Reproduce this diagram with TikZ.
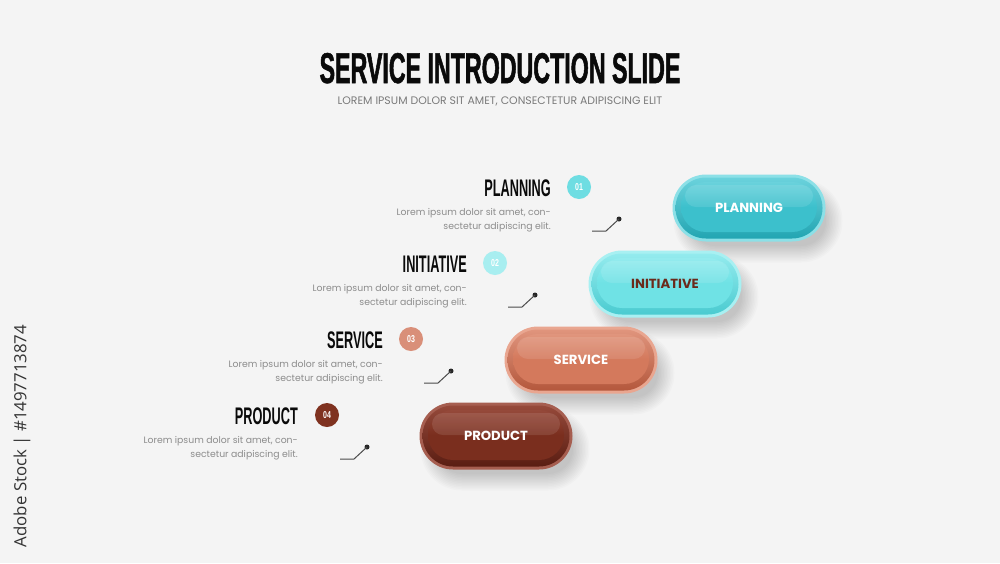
\documentclass[tikz,border=0pt]{standalone}
\usepackage{fontspec}
\setmainfont{Poppins}
\newfontfamily\condfont[FakeStretch=0.53]{Liberation Sans}
\newfontfamily\titlefont[FakeStretch=0.54,FakeBold=1.2]{Liberation Sans}
\newfontfamily\numfont[FakeStretch=0.7]{Liberation Sans}
\newfontfamily\sidefont{Open Sans}
\usetikzlibrary{shapes.misc}
\definecolor{bg}{HTML}{F4F4F4}
\definecolor{titlec}{HTML}{0A0A0A}
\definecolor{subc}{HTML}{7A7A7A}
\definecolor{descc}{HTML}{8C8C8C}
\definecolor{connc}{HTML}{4A4A4A}
% pill colours: body, rim, dark, light
\definecolor{pAbody}{HTML}{3CC0CC}\definecolor{pArim}{HTML}{8CE0E7}\definecolor{pAdark}{HTML}{22A5B2}\definecolor{pAlight}{HTML}{6AD2DC}
\definecolor{pBbody}{HTML}{6FE2E5}\definecolor{pBrim}{HTML}{A8F0F2}\definecolor{pBdark}{HTML}{4ACBD0}\definecolor{pBlight}{HTML}{94EBEE}
\definecolor{pCbody}{HTML}{D4795C}\definecolor{pCrim}{HTML}{E9A690}\definecolor{pCdark}{HTML}{B4573C}\definecolor{pClight}{HTML}{E0957D}
\definecolor{pDbody}{HTML}{7A2E1E}\definecolor{pDrim}{HTML}{A65E50}\definecolor{pDdark}{HTML}{5A1D12}\definecolor{pDlight}{HTML}{95493A}
\definecolor{cA}{HTML}{6EDDE2}\definecolor{cB}{HTML}{A8EEF0}\definecolor{cC}{HTML}{D98F79}\definecolor{cD}{HTML}{7F3220}
\definecolor{darklabel}{HTML}{6B2A1B}
\tikzset{
  pillshape/.style={rounded rectangle, inner sep=0pt, draw=none},
  head/.style={font=\condfont\bfseries\fontsize{24}{24}\selectfont, text=titlec, inner sep=0pt, anchor=base east},
  numcirc/.style={circle, minimum size=24pt, inner sep=0pt, text=white, font=\numfont\bfseries\fontsize{10}{10}\selectfont},
  desc/.style={font=\fontsize{9.3}{14}\selectfont, text=descc, align=right, anchor=east, inner sep=0pt},
  dotnode/.style={circle, fill=black!85, minimum size=5pt, inner sep=0pt},
  conn/.style={draw=connc, line width=1pt},
  pilllabel/.style={font=\bfseries\fontsize{13.2}{13.2}\selectfont, inner sep=0pt}
}
% name, x, y, body, rim, dark, light, label, labelcolor
\newcommand{\glosspill}[9]{%
  \foreach \s in {0,3,...,33} {\node[pillshape, minimum width=136pt+\s pt, minimum height=50pt+\s pt, fill=black, fill opacity=0.017] at (#2+9,#3+13) {};}
  \node[pillshape, minimum width=153pt, minimum height=67pt, fill=#5] (#1) at (#2,#3) {};
  \node[pillshape, minimum width=147pt, minimum height=61pt, top color=#7, bottom color=#6] (#1-body) at (#2,#3) {};
  \node[pillshape, minimum width=136pt, minimum height=50pt, top color=#7, bottom color=#4, middle color=#4] (#1-face) at (#2,#3-1) {};
  \node[pillshape, minimum width=128pt, minimum height=22pt, fill=white, fill opacity=0.10] (#1-gloss) at (#2,#3-12) {};
  \node[pilllabel, text=#9] (#1-label) at (#2,#3) {#8};
}
\begin{document}
\begin{tikzpicture}[x=1pt,y=-1pt]
\useasboundingbox (0,0) rectangle (1000,563);
\fill[bg] (0,0) rectangle (1000,563);

% side text
\node[rotate=90, font=\sidefont\fontsize{16.8}{16.8}\selectfont, text=black!80, inner sep=0pt] (side) at (22,436) {Adobe Stock | \#1497713874};

% title
\node[font=\titlefont\bfseries\fontsize{43}{43}\selectfont, text=titlec, inner sep=0pt, anchor=base] (title) at (500,83) {SERVICE INTRODUCTION SLIDE};
\node[font=\fontsize{10.9}{10.9}\selectfont, text=subc, inner sep=0pt, anchor=base] (subtitle) at (500,104) {LOREM IPSUM DOLOR SIT AMET, CONSECTETUR ADIPISCING ELIT};

% pills
\glosspill{pA}{749}{208}{pAbody}{pArim}{pAdark}{pAlight}{PLANNING}{white}
\glosspill{pB}{665}{284}{pBbody}{pBrim}{pBdark}{pBlight}{INITIATIVE}{darklabel}
\glosspill{pC}{581}{360}{pCbody}{pCrim}{pCdark}{pClight}{SERVICE}{white}
\glosspill{pD}{496}{436}{pDbody}{pDrim}{pDdark}{pDlight}{PRODUCT}{white}

% rows
\node[head] (hA) at (551,196) {PLANNING};
\node[numcirc, fill=cA] (nA) at (579,187) {01};
\node[desc] (dA) at (551,220) {Lorem ipsum dolor sit amet, con-\\sectetur adipiscing elit.};
\coordinate (lA1) at (592,231); \coordinate (lA2) at (606,231);
\node[dotnode] (eA) at (619,219) {};
\draw[conn] (lA1) -- (lA2) -- (eA.center);

\node[head] (hB) at (467,272) {INITIATIVE};
\node[numcirc, fill=cB] (nB) at (495,263) {02};
\node[desc] (dB) at (467,296) {Lorem ipsum dolor sit amet, con-\\sectetur adipiscing elit.};
\coordinate (lB1) at (508,307); \coordinate (lB2) at (522,307);
\node[dotnode] (eB) at (535,295) {};
\draw[conn] (lB1) -- (lB2) -- (eB.center);

\node[head] (hC) at (383,348) {SERVICE};
\node[numcirc, fill=cC] (nC) at (411,339) {03};
\node[desc] (dC) at (383,372) {Lorem ipsum dolor sit amet, con-\\sectetur adipiscing elit.};
\coordinate (lC1) at (424,383); \coordinate (lC2) at (438,383);
\node[dotnode] (eC) at (451,371) {};
\draw[conn] (lC1) -- (lC2) -- (eC.center);

\node[head] (hD) at (298,424) {PRODUCT};
\node[numcirc, fill=cD] (nD) at (327,415) {04};
\node[desc] (dD) at (298,448) {Lorem ipsum dolor sit amet, con-\\sectetur adipiscing elit.};
\coordinate (lD1) at (340,459); \coordinate (lD2) at (354,459);
\node[dotnode] (eD) at (367,447) {};
\draw[conn] (lD1) -- (lD2) -- (eD.center);
\end{tikzpicture}
\end{document}
